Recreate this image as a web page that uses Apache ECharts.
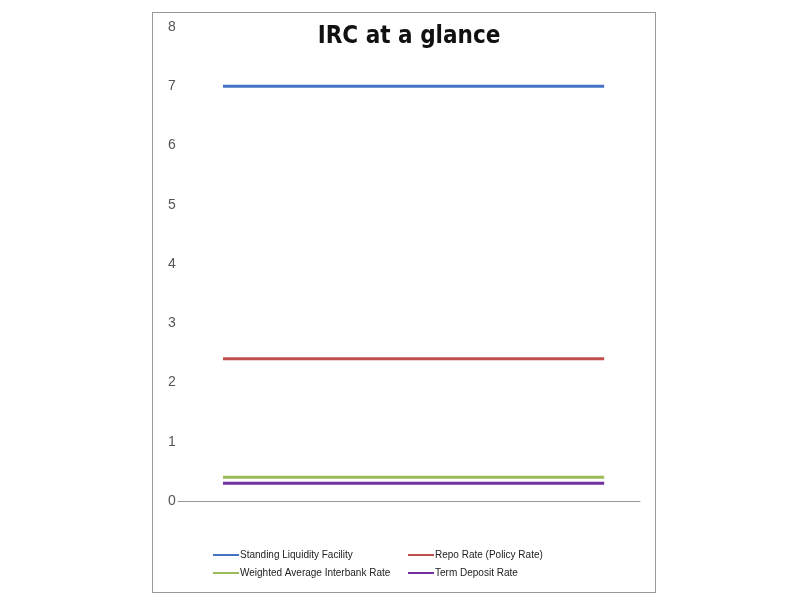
<!DOCTYPE html>
<html><head><meta charset="utf-8">
<script src="https://cdn.jsdelivr.net/npm/echarts@6/dist/echarts.min.js"></script>
<style>body{margin:0;background:#fff}#c{width:800px;height:602px}
#f{position:absolute;left:152px;top:12px;width:502px;height:579px;border:1px solid #999;pointer-events:none}</style>
</head><body><div id="f"></div><div id="c"></div>
<script>
var seriesNames = ['Standing Liquidity Facility', 'Repo Rate (Policy Rate)', 'Weighted Average Interbank Rate', 'Term Deposit Rate'];
var seriesValues = [7, 2.4, 0.4, 0.3];
var seriesColors = ['#4472c4', '#c0504d', '#9bbb59', '#7030a0'];
var xPoints = [0, 1];

var myChart = echarts.init(document.getElementById('c'));
var option = {
    title: {
        text: 'IRC at a glance', left: 404, top: 20, textAlign: 'center',
        textStyle: { fontFamily: 'DejaVu Sans Condensed', fontWeight: 'bold', fontSize: 24, color: '#111' }
    },
    legend: [
        { data: [seriesNames[0], seriesNames[2]], orient: 'vertical', left: 208, top: 545, itemGap: 8,
          icon: 'rect', itemWidth: 26, itemHeight: 2, textStyle: { fontSize: 10, fontFamily: 'Liberation Sans', color: '#222', padding: [0, 0, 0, -4] } },
        { data: [seriesNames[1], seriesNames[3]], orient: 'vertical', left: 403, top: 545, itemGap: 8,
          icon: 'rect', itemWidth: 26, itemHeight: 2, textStyle: { fontSize: 10, fontFamily: 'Liberation Sans', color: '#222', padding: [0, 0, 0, -4] } }
    ],
    grid: { left: 178, right: 160, top: 27, bottom: 101 },
    xAxis: {
        type: 'value', min: -0.118, max: 1.094,
        axisLine: { show: true, onZero: false, lineStyle: { color: '#999' } },
        axisTick: { show: false }, axisLabel: { show: false }, splitLine: { show: false }
    },
    yAxis: {
        type: 'value', min: 0, max: 8, interval: 1,
        axisLine: { show: false }, axisTick: { show: false }, splitLine: { show: false },
        axisLabel: { margin: 6, fontSize: 14, fontFamily: 'Liberation Sans', color: '#555', align: 'center' }
    },
    series: seriesNames.map(function (name, i) {
        return {
            name: name, type: 'line', showSymbol: false, symbol: 'none',
            data: xPoints.map(function (x) { return [x, seriesValues[i]]; }),
            lineStyle: { color: seriesColors[i], width: 3 }, itemStyle: { color: seriesColors[i] }
        };
    })
};
myChart.setOption(option);
</script></body></html>
